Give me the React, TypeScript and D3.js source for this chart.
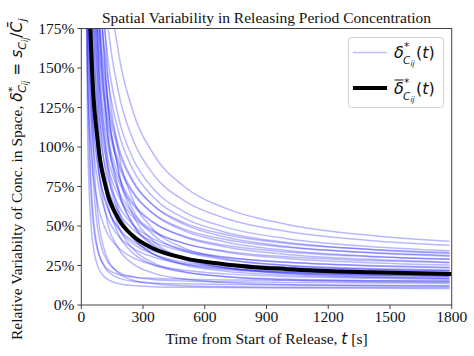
import React from "react";
import * as d3 from "d3";

const TIMES = [5, 15, 30, 50, 80, 120, 180, 250, 350, 500, 700, 1000, 1400, 1790];
const MEAN_TIMES = [5, 15, 30, 50, 80, 120, 180, 250, 350, 500, 700, 1000, 1400, 1800];

// Individual location curves (% values), steep-low group
const LOW_CURVES: number[][] = [
  [3610, 410, 110, 46, 24.5, 17, 13.6, 12.3, 11.6, 11.2, 11, 10.8, 10.6, 10.5],
  [6012, 679, 179, 72, 35.5, 22.8, 17.2, 15.1, 14, 13.4, 13, 12.7, 12.5, 12.3],
  [8814, 992, 258, 101.5, 48, 29.2, 21, 17.8, 16.2, 15.2, 14.7, 14.3, 14, 13.8],
  [12011, 1344, 344, 131, 57.9, 31.8, 20.3, 15.8, 13.5, 12.2, 11.6, 11.3, 11.2, 11.1],
  [4815, 548, 148, 63, 34, 23.8, 19.5, 17.8, 16.9, 16.3, 15.9, 15.6, 15.4, 15.2],
];

// Middle group
const MID_CURVES: number[][] = [
  [5377, 1044, 376, 181, 94.9, 56.7, 35.8, 26.2, 20.2, 16.4, 14.2, 12.9, 12.2, 11.8],
  [8059, 1562, 561, 268, 138.8, 81.5, 50.3, 35.8, 26.7, 21.1, 17.9, 15.8, 14.7, 14.2],
  [6719, 1305, 470, 226, 118.9, 71.1, 45.1, 33, 25.5, 20.7, 18.1, 16.4, 15.4, 15],
  [9850, 1909, 685, 327, 169.3, 99.2, 61, 43.3, 32.3, 25.3, 21.4, 19, 17.6, 16.9],
  [12532, 2425, 868, 412, 211.7, 122.5, 74, 51.4, 37.4, 28.5, 23.6, 20.4, 18.7, 17.8],
  [8957, 1738, 626, 300, 156.8, 93.1, 58.4, 42.3, 32.3, 25.9, 22.4, 20.2, 18.9, 18.3],
  [15213, 2941, 1050, 496, 252, 143.9, 84.9, 57.5, 40.5, 29.7, 23.7, 19.9, 17.8, 16.7],
  [11640, 2256, 810, 386, 200, 117.4, 72.3, 51.4, 38.4, 30.1, 25.5, 22.6, 21, 20.2],
  [17005, 3289, 1175, 556, 284.6, 163.6, 97.7, 67.1, 48, 36, 29.3, 25, 22.6, 21.5],
  [14324, 2774, 994, 472, 243.7, 141.8, 86.2, 60.5, 44.4, 34.3, 28.6, 25.1, 23.1, 22.1],
];

// Slow-decaying high group
const HIGH_CURVES: number[][] = [
  [1016, 349, 183, 116, 78.5, 57.7, 43.8, 36, 30.3, 26, 23.1, 21, 19.6, 18.8],
  [1317, 450, 234, 147, 98.3, 71.2, 53.1, 43, 35.6, 30, 26.3, 23.5, 21.6, 20.6],
  [1119, 385, 202, 128, 87.3, 64.3, 49.1, 40.5, 34.2, 29.5, 26.4, 24, 22.4, 21.6],
  [1619, 552, 286, 179, 119, 85.7, 63.4, 51, 41.9, 35, 30.4, 27, 24.7, 23.4],
  [1420, 487, 253, 160, 107.5, 78.3, 58.9, 48, 40, 34, 30, 27, 25, 23.9],
  [1920, 653, 337, 210, 138.8, 99.2, 72.8, 58, 47.1, 39, 33.6, 29.5, 26.8, 25.3],
  [2221, 754, 388, 241, 158.5, 112.7, 82.1, 65, 52.4, 43, 36.7, 32, 28.9, 27.1],
  [1722, 589, 305, 192, 128.3, 92.8, 69.2, 56, 46.3, 39, 34.1, 30.5, 28.1, 26.7],
  [2522, 855, 439, 272, 178.3, 126.2, 91.4, 72, 57.7, 47, 39.9, 34.5, 30.9, 28.9],
  [2024, 690, 357, 224, 148.5, 106.8, 79.1, 63.5, 52.1, 43.5, 37.8, 33.5, 30.6, 29.1],
  [2823, 956, 490, 303, 198, 139.7, 100.8, 79, 63, 51, 43, 37, 33, 30.8],
  [2325, 792, 408, 255, 168.8, 120.8, 88.9, 71, 57.9, 48, 41.4, 36.5, 33.2, 31.4],
  [3124, 1057, 541, 334, 217.8, 153.2, 110.1, 86, 68.3, 55, 46.1, 39.5, 35.1, 32.6],
  [2626, 893, 459, 286, 188.5, 134.3, 98.2, 78, 63.1, 52, 44.6, 39, 35.3, 33.2],
  [3425, 1158, 592, 365, 237.5, 166.7, 119.4, 93, 73.6, 59, 49.3, 42, 37.1, 34.4],
  [3927, 1327, 677, 417, 270.8, 189.5, 135.3, 105, 82.7, 66, 54.9, 46.5, 40.9, 37.8],
  [4827, 1627, 827, 507, 327, 227, 160.3, 123, 95.6, 75, 61.3, 51, 44.1, 40.3],
  [814, 281, 147, 94, 64, 47.3, 36.2, 30, 25.4, 22, 19.7, 18, 16.9, 16.2],
  [1215, 415, 215, 135, 90, 65, 48.3, 39, 32.1, 27, 23.6, 21, 19.3, 18.3],
];

// Mean curve
const MEAN_CURVE = [1420, 484, 250, 156, 103.5, 74.2, 54.7, 43.8, 35.8, 29.7, 25.7, 22.7, 20.7, 19.6];

const X_TICKS = [0, 300, 600, 900, 1200, 1500, 1800];
const Y_TICKS = [0, 25, 50, 75, 100, 125, 150, 175];

const TITLE = "Spatial Variability in Releasing Period Concentration";
const XLABEL = "Time from Start of Release, ";
const YLABEL = "Relative Variabilty of Conc. in Space, ";

const W = 474;
const H = 356;
const M = { left: 81.3, right: 451.7, top: 28.5, bottom: 305 };

const SERIF = "'Liberation Serif', 'Times New Roman', serif";
const SANS = "'DejaVu Sans', sans-serif";
const FS = 15.5;

export default function App() {
  const x = d3.scaleLinear().domain([0, 1800]).range([M.left, M.right]);
  const y = d3.scaleLinear().domain([0, 175]).range([M.bottom, M.top]);

  const mk = (times: number[]) =>
    d3
      .line<number>()
      .x((_, i) => x(times[i]))
      .y((v) => y(v))
      .curve(d3.curveMonotoneX);

  const blueLine = mk(TIMES);
  const meanLine = mk(MEAN_TIMES);
  const allCurves = [...LOW_CURVES, ...MID_CURVES, ...HIGH_CURVES];

  return (
    <svg
      width={W}
      height={H}
      style={{ position: "absolute", left: 0, top: 0, background: "#fff" }}
    >
      <defs>
        <clipPath id="plotclip">
          <rect x={M.left} y={M.top} width={M.right - M.left} height={M.bottom - M.top} />
        </clipPath>
      </defs>
      <rect x={0} y={0} width={W} height={H} fill="#fff" />

      <g clipPath="url(#plotclip)">
        {allCurves.map((c, i) => (
          <path
            key={i}
            d={blueLine(c) || ""}
            fill="none"
            stroke="#0000ff"
            strokeOpacity={0.28}
            strokeWidth={1.5}
          />
        ))}
        <path d={meanLine(MEAN_CURVE) || ""} fill="none" stroke="#000" strokeWidth={4} />
      </g>

      {/* frame */}
      <rect
        x={M.left}
        y={M.top}
        width={M.right - M.left}
        height={M.bottom - M.top}
        fill="none"
        stroke="#444"
        strokeWidth={1}
      />

      {/* x ticks */}
      {X_TICKS.map((t) => (
        <g key={t}>
          <line x1={x(t)} x2={x(t)} y1={M.bottom} y2={M.bottom + 4} stroke="#444" />
          <text
            x={x(t)}
            y={M.bottom + 17}
            textAnchor="middle"
            fontFamily={SERIF}
            fontSize={FS}
            fill="#111"
          >
            {t}
          </text>
        </g>
      ))}

      {/* y ticks */}
      {Y_TICKS.map((t) => (
        <g key={t}>
          <line x1={M.left - 4} x2={M.left} y1={y(t)} y2={y(t)} stroke="#444" />
          <text
            x={M.left - 7}
            y={y(t) + 5}
            textAnchor="end"
            fontFamily={SERIF}
            fontSize={FS}
            fill="#111"
          >
            {t}%
          </text>
        </g>
      ))}

      {/* title */}
      <text
        x={(M.left + M.right) / 2}
        y={23}
        textAnchor="middle"
        fontFamily={SERIF}
        fontSize={FS}
        fill="#111"
      >
        {TITLE}
      </text>

      {/* x label */}
      <text
        x={(M.left + M.right) / 2}
        y={344}
        textAnchor="middle"
        fontFamily={SERIF}
        fontSize={FS}
        fill="#111"
      >
        <tspan>{XLABEL}</tspan>
        <tspan fontFamily={SANS} fontStyle="italic">t</tspan>
        <tspan> [s]</tspan>
      </text>

      {/* y label */}
      <g transform="translate(22,340) rotate(-90)">
        <text x={0} y={0} fontFamily={SERIF} fontSize={FS} fill="#111">
          <tspan>{YLABEL}</tspan>
          <tspan fontFamily={SANS} fontStyle="italic">δ</tspan>
          <tspan fontFamily={SANS} fontSize={11} dy={-6}>*</tspan>
          <tspan fontFamily={SANS} fontStyle="italic" fontSize={11} dx={-6} dy={10}>C</tspan>
          <tspan fontFamily={SANS} fontStyle="italic" fontSize={8} dy={2}>ij</tspan>
          <tspan fontFamily={SANS} dy={-6}> = </tspan>
          <tspan fontFamily={SANS} fontStyle="italic">s</tspan>
          <tspan fontFamily={SANS} fontStyle="italic" fontSize={11} dy={4}>C</tspan>
          <tspan fontFamily={SANS} fontStyle="italic" fontSize={8} dy={2}>ij</tspan>
          <tspan fontFamily={SANS} dy={-6}>/</tspan>
          <tspan fontFamily={SANS} fontStyle="italic">C̄</tspan>
          <tspan fontFamily={SANS} fontStyle="italic" fontSize={11} dy={4}>j</tspan>
        </text>
      </g>

      {/* legend */}
      <rect
        x={348.5}
        y={37.5}
        width={95}
        height={70}
        rx={3}
        fill="#fff"
        fillOpacity={0.85}
        stroke="#d0d0d0"
      />
      <line x1={353} x2={387} y1={52.5} y2={52.5} stroke="#0000ff" strokeOpacity={0.25} strokeWidth={1.5} />
      <line x1={353} x2={387} y1={88} y2={88} stroke="#000" strokeWidth={4} />

      <g fontFamily={SANS} fill="#111">
        <text x={394} y={58} fontSize={16} fontStyle="italic">δ</text>
        <text x={404} y={50} fontSize={10.5}>*</text>
        <text x={403} y={63.5} fontSize={10.5} fontStyle="italic">C</text>
        <text x={410.5} y={66} fontSize={7.5} fontStyle="italic">ij</text>
        <text x={416} y={58} fontSize={16}>
          (<tspan fontStyle="italic">t</tspan>)
        </text>

        <line x1={394.5} x2={403.5} y1={80} y2={80} stroke="#111" strokeWidth={1} />
        <text x={394} y={94} fontSize={16} fontStyle="italic">δ</text>
        <text x={404} y={86} fontSize={10.5}>*</text>
        <text x={403} y={99.5} fontSize={10.5} fontStyle="italic">C</text>
        <text x={410.5} y={102} fontSize={7.5} fontStyle="italic">ij</text>
        <text x={416} y={94} fontSize={16}>
          (<tspan fontStyle="italic">t</tspan>)
        </text>
      </g>
    </svg>
  );
}
